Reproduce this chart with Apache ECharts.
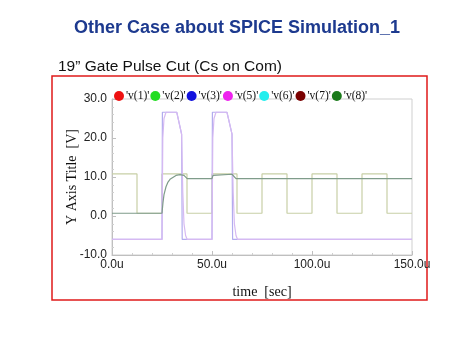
<!DOCTYPE html>
<html><head><meta charset="utf-8">
<script src="https://cdn.jsdelivr.net/npm/echarts@6/dist/echarts.min.js"></script>
<style>html,body{margin:0;padding:0;background:#fff}#c{width:474px;height:355px}</style>
</head><body><div id="c"></div>
<script>
const seriesNames = ["'v(1)'", "'v(2)'", "'v(3)'", "'v(5)'", "'v(6)'", "'v(7)'", "'v(8)'"];
const legendColors = ['#ee1111', '#22dd22', '#1111dd', '#ee22ee', '#22eeee', '#7a0000', '#1a7a1a'];
const xTicks = ['0.0u', '50.0u', '100.0u', '150.0u'];
const yTicks = ['-10.0', '0.0', '10.0', '20.0', '30.0'];

// v(2): gate square wave (time in us, volts)
const v2Time = [0, 12.5, 12.5, 25, 25, 37.5, 37.5, 50, 50, 62.5, 62.5, 75, 75, 87.5, 87.5, 100, 100, 112.5, 112.5, 125, 125, 137.5, 137.5, 150];
const v2Val  = [10.8, 10.8, 0.7, 0.7, 10.8, 10.8, 0.7, 0.7, 10.8, 10.8, 0.7, 0.7, 10.8, 10.8, 0.7, 0.7, 10.8, 10.8, 0.7, 0.7, 10.8, 10.8, 0.7, 0.7];
// v(3): sharp pulse
const v3Time = [0, 25, 25.2, 32.4, 34.8, 35.1, 50, 50.2, 57.5, 60.0, 60.3, 150];
const v3Val  = [-6, -6, 26.6, 26.6, 21, -6, -6, 26.6, 26.6, 21, -6, -6];
// v(5): pulse with soft edges
const v5Time = [0, 25, 25.4, 26, 27, 32.4, 34.8, 35.4, 36, 36.8, 37.6, 50, 50.4, 51, 52, 57.5, 60.0, 60.6, 61.2, 62, 62.8, 150];
const v5Val  = [-6, -6, 20, 25, 26.6, 26.6, 21, 6, -2, -5, -6, -6, 20, 25, 26.6, 26.6, 21, 6, -2, -5, -6, -6];
// v(8): node with RC rise
const v8Time = [0, 25, 25.5, 26, 27, 28, 29, 30, 32, 34, 35, 36, 36.8, 37.6, 50, 50.5, 51.5, 60, 61, 62, 150];
const v8Val  = [0.7, 0.7, 3.5, 5.5, 7.5, 8.7, 9.4, 9.9, 10.4, 10.6, 10.6, 10.4, 9.9, 9.6, 9.6, 10.4, 10.7, 10.7, 10.2, 9.6, 9.6];

const zip = (t, v) => t.map((x, i) => [x, v[i]]);
const lineColors = {"'v(2)'": '#c8cfa6', "'v(3)'": '#b2acee', "'v(5)'": '#d6b9f2', "'v(8)'": '#7f9c8a'};
const dataMap = {"'v(2)'": zip(v2Time, v2Val), "'v(3)'": zip(v3Time, v3Val), "'v(5)'": zip(v5Time, v5Val), "'v(8)'": zip(v8Time, v8Val)};

const chart = echarts.init(document.getElementById('c'), null, {renderer: 'canvas'});
chart.setOption({
  animation: false,
  backgroundColor: '#fff',
  title: [
    {text: 'Other Case about SPICE Simulation_1', left: 'center', top: 14,
     textStyle: {fontFamily: 'Liberation Sans, Arial', fontWeight: 'bold', fontSize: 18, color: '#1d3a8f'}},
    {text: '19\u201D Gate Pulse Cut (Cs on Com)', left: 53, top: 54,
     textStyle: {fontFamily: 'Liberation Sans, Arial', fontWeight: 'normal', fontSize: 15.5, color: '#111'}}
  ],
  graphic: [{type: 'rect', shape: {x: 52, y: 76, width: 375, height: 224}, style: {fill: 'none', stroke: '#e01a1a', lineWidth: 1.5}}],
  legend: {
    left: 109, top: 85, itemWidth: 10, itemHeight: 10, itemGap: 1, icon: 'circle',
    textStyle: {fontFamily: 'Liberation Serif, Times New Roman', fontSize: 11.5, color: '#111', padding: [0, 0, 0, -3]},
    data: seriesNames.map((n, i) => ({name: n, itemStyle: {color: legendColors[i]}}))
  },
  grid: {left: 112, right: 62, top: 99, bottom: 100, show: true, borderColor: '#cfcfcf', borderWidth: 1},
  xAxis: {
    type: 'value', min: 0, max: 150, interval: 50,
    name: 'time  [sec]', nameLocation: 'middle', nameGap: 30,
    nameTextStyle: {fontFamily: 'Liberation Serif, Times New Roman', fontSize: 14, color: '#111'},
    axisLine: {show: true, onZero: false, lineStyle: {color: '#bfbfbf'}},
    axisTick: {show: true, inside: true, length: 4, lineStyle: {color: '#bfbfbf'}},
    minorTick: {show: true, splitNumber: 5, length: 2, lineStyle: {color: '#cfcfcf'}},
    splitLine: {show: false},
    axisLabel: {margin: 4, fontFamily: 'Liberation Sans, Arial', fontSize: 12, color: '#222',
      formatter: v => xTicks[Math.round(v / 50)]}
  },
  yAxis: {
    type: 'value', min: -10, max: 30, interval: 10,
    name: 'Y Axis Title  [V]', nameLocation: 'middle', nameGap: 33, nameMoveOverlap: false,
    nameTextStyle: {fontFamily: 'Liberation Serif, Times New Roman', fontSize: 14, color: '#111'},
    axisLine: {show: true, onZero: false, lineStyle: {color: '#bfbfbf'}},
    axisTick: {show: true, inside: true, length: 4, lineStyle: {color: '#bfbfbf'}},
    minorTick: {show: true, splitNumber: 5, length: 2, lineStyle: {color: '#cfcfcf'}},
    splitLine: {show: false},
    axisLabel: {margin: 5, fontFamily: 'Liberation Sans, Arial', fontSize: 12, color: '#222',
      formatter: v => yTicks[Math.round((v + 10) / 10)]}
  },
  series: seriesNames.map((n, i) => ({
    name: n, type: 'line', showSymbol: false, symbol: 'none',
    itemStyle: {color: legendColors[i]},
    lineStyle: {color: lineColors[n] || legendColors[i], width: 1.2},
    data: dataMap[n] || [],
    z: n === "'v(8)'" ? 5 : 2
  }))
});
</script></body></html>
